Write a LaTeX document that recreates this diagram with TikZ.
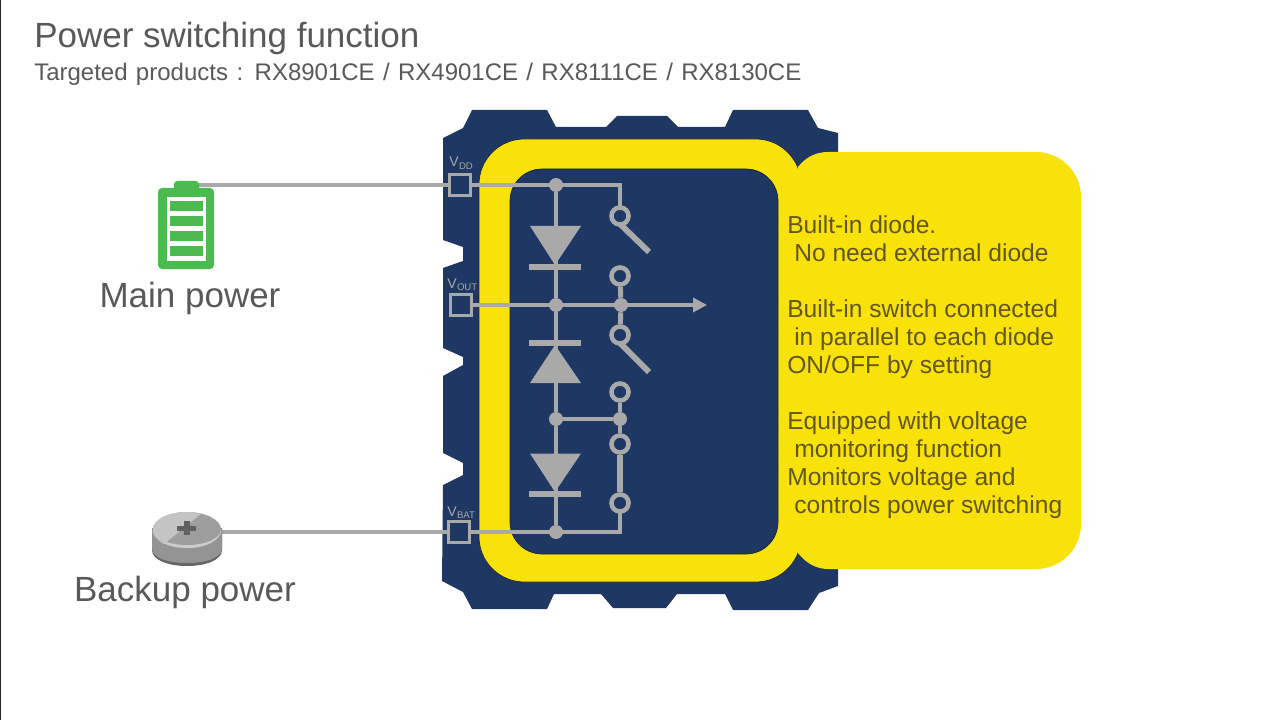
\documentclass[tikz,border=0pt]{standalone}
\usepackage{fontspec}
\setmainfont{Liberation Sans}
\usetikzlibrary{arrows.meta}
\definecolor{navy}{HTML}{1F3763}
\definecolor{yel}{HTML}{F9E20A}
\definecolor{wire}{HTML}{A9A9A9}
\definecolor{ink}{HTML}{595959}
\definecolor{yink}{HTML}{625719}
\definecolor{grn}{HTML}{4CBB4F}
\definecolor{edge}{HTML}{1A2238}
\newcommand{\pxfont}[1]{\fontsize{\dimexpr#1pt*3/4\relax}{\dimexpr#1pt*3/4\relax}\selectfont}
\tikzset{
  x=0.75pt,y=-0.75pt,
  wireline/.style={draw=wire,line width=3.7pt},
  thinwire/.style={draw=wire,line width=3.4pt},
  armline/.style={draw=wire,line width=4.4pt},
  pad/.style={draw=wire,line width=2.4pt,minimum size=15.6pt,inner sep=0pt},
  junction/.style={circle,fill=wire,minimum size=10.5pt,inner sep=0pt},
  contact/.style={circle,draw=wire,fill=navy,line width=3.4pt,minimum size=12.8pt,inner sep=0pt},
  pin/.style={text=wire,inner sep=0pt,anchor=base west},
  yellowtext/.style={text=yink,inner sep=0pt,anchor=base west,font=\pxfont{24.6}},
  bigtext/.style={text=ink,inner sep=0pt,anchor=base,font=\pxfont{35}},
  diodefill/.style={fill=wire,draw=none},
}
\newcommand{\pinlabel}[1]{\pxfont{14}V\kern0.3pt\raisebox{-2.2pt}{\pxfont{9.6}#1}}
\begin{document}
\begin{tikzpicture}
\useasboundingbox (0,0) rectangle (1280,720);
\fill[white] (0,0) rectangle (1280,720);
\draw[black!85,line width=1pt] (0.7,0) -- (0.7,720);
% texts
\node[inner sep=0pt,anchor=base west,text=ink,font=\pxfont{35}] (title) at (34,48) {Power switching function};
\node[inner sep=0pt,anchor=base west,text=ink,font=\pxfont{24}] (subtitle) at (34,81) {\spaceskip=6.25pt Targeted products\hspace{6.5pt}:\hspace{8.5pt}RX8901CE / RX4901CE / RX8111CE / RX8130CE};
% package
\fill[navy] (443,138) -- (463,128) -- (472,110) -- (547,110) -- (556,127) -- (606,127) -- (617,116) -- (667,116) -- (678,127) -- (725,127) -- (733,110) -- (808,110) -- (818,128) -- (838,133)
 -- (838,586) -- (819,593) -- (808,610) -- (733,610) -- (725,594) -- (677,594) -- (666,608) -- (613,608) -- (601,594) -- (554,594) -- (547,609) -- (472,609) -- (463,592) -- (442,581)
 -- (443,485) -- (463,475) -- (463,463) -- (443,453) -- (443,376) -- (463,365) -- (463,357) -- (443,348) -- (443,268) -- (463,261) -- (463,247) -- (443,240) -- cycle;
% yellow ring and callout
\filldraw[fill=yel,draw=edge,line width=0.5pt,rounded corners=34pt] (479,139) rectangle (801,582);
\fill[yel] (798,167) .. controls (805,158) and (815,152) .. (828,152) -- (1036,152) .. controls (1061,152) and (1081,172) .. (1081,197) -- (1081,524) .. controls (1081,549) and (1061,569) .. (1036,569) -- (828,569) .. controls (815,569) and (805,562) .. (798,553) -- cycle;
\filldraw[fill=navy,draw=edge,line width=0.5pt,rounded corners=24pt] (510,169) rectangle (778,554);
% pads and terminals
\node[pad] (vdd) at (460,185) {};
\node[pad] (vout) at (461,305) {};
\node[pad] (vbat) at (459,532) {};
\node[pin] (vddlabel) at (449,167) {\pinlabel{DD}};
\node[pin] (voutlabel) at (447,288) {\pinlabel{OUT}};
\node[pin] (vbatlabel) at (447,516) {\pinlabel{BAT}};
% junctions and contacts
\node[junction] (j1) at (556,185) {};
\node[junction] (j2) at (556,305) {};
\node[junction] (j3) at (621,305) {};
\node[junction] (j4) at (556,419) {};
\node[junction] (j5) at (620,419) {};
\node[junction] (j6) at (556,532) {};
\coordinate (c1) at (620,185);
\coordinate (c2) at (620,532);
\coordinate (batt) at (199,185);
\coordinate (coin) at (222,532);
\coordinate (tip) at (707,305);
\coordinate (arm1s) at (619,223);
\coordinate (arm2s) at (619,342);
\coordinate (arm1) at (649,252);
\coordinate (arm2) at (649,372);
% wires
\draw[thinwire] (batt) -- (vdd.west);
\draw[thinwire] (coin) -- (vbat.west);
\draw[wireline] (vdd.east) -- (j1.center) -- (c1) -- (620,216);
\draw[wireline] (vbat.east) -- (j6.center) -- (c2) -- (620,503);
\draw[wireline] (j1) -- (j2) -- (j4) -- (j6);
\draw[wireline] (j4) -- (j5);
\draw[wireline,-{Triangle[length=10.5pt,width=10.5pt]}] (vout.east) -- (j2.center) -- (j3.center) -- (tip);
\draw[armline] (arm1s) -- (arm1);
\draw[armline] (arm2s) -- (arm2);
\node[contact] (s1) at (620,216) {};
\node[contact] (s2) at (620,276) {};
\node[contact] (s3) at (620,335) {};
\node[contact] (s4) at (620,392) {};
\node[contact] (s5) at (620,444) {};
\node[contact] (s6) at (620,503) {};
\draw[wireline] (s2) -- (j3) -- (s3);
\draw[wireline] (s4) -- (j5) -- (s5);
\draw[armline] (s5) -- (s6);
% diodes
\fill[diodefill] (530,226) -- (581,226) -- (555,265) -- cycle;
\fill[diodefill] (529,263.5) rectangle (581,270);
\fill[diodefill] (530,383) -- (581,383) -- (555,345) -- cycle;
\fill[diodefill] (529,340) rectangle (581,346);
\fill[diodefill] (530,453.5) -- (581,453.5) -- (555,492) -- cycle;
\fill[diodefill] (529,491) rectangle (581,497);
% callout text
\node[yellowtext] (t1) at (787,233.5) {Built-in diode.};
\node[yellowtext] (t2) at (794,261.5) {No need external diode};
\node[yellowtext] (t3) at (787,317.5) {Built-in switch connected};
\node[yellowtext] (t4) at (794,345.5) {in parallel to each diode};
\node[yellowtext] (t5) at (787,373.5) {ON/OFF by setting};
\node[yellowtext] (t6) at (787,429.5) {Equipped with voltage};
\node[yellowtext] (t7) at (794,457.5) {monitoring function};
\node[yellowtext] (t8) at (787,485.5) {Monitors voltage and};
\node[yellowtext] (t9) at (794,513.5) {controls power switching};
% battery
\fill[grn,rounded corners=2.5pt] (174,181) rectangle (199,192);
\fill[grn,rounded corners=3pt] (158,188) rectangle (214,269);
\fill[white] (167,197) rectangle (206,261);
\fill[grn] (170,201) rectangle (203,211);
\fill[grn] (170,216) rectangle (203,226);
\fill[grn] (170,231) rectangle (203,241);
\fill[grn] (170,246) rectangle (203,256);
\node[bigtext] (mainlabel) at (190,307) {Main power};
% coin cell
\fill[black!60] (152,528) -- (152,550) .. controls (152,560) and (168,566) .. (187,566) .. controls (206,566) and (222,560) .. (222,550) -- (222,528) -- cycle;
\fill[black!42] (152,528) -- (152,548) .. controls (152,558) and (168,563) .. (187,563) .. controls (206,563) and (222,558) .. (222,548) -- (222,528) -- cycle;
\fill[black!20] (152.5,531) .. controls (155,541) and (168,548) .. (187,548) .. controls (206,548) and (219,541) .. (221.5,531) -- cycle;
\fill[black!38] (153,529) .. controls (153,520) and (168,512) .. (187,512) .. controls (206,512) and (221,520) .. (221,529) .. controls (221,538) and (206,545) .. (187,545) .. controls (168,545) and (153,538) .. (153,529) -- cycle;
\fill[black!23] (153,529) .. controls (153,520) and (168,512) .. (187,512) .. controls (192,512) and (197,513) .. (201,514) -- (164,544) .. controls (157,540) and (153,535) .. (153,529) -- cycle;
\fill[black!62] (177,525.5) rectangle (196,530.5);
\fill[black!62] (184,521) rectangle (190,535);
\node[bigtext] (backuplabel) at (185,601) {Backup power};
\end{tikzpicture}
\end{document}
